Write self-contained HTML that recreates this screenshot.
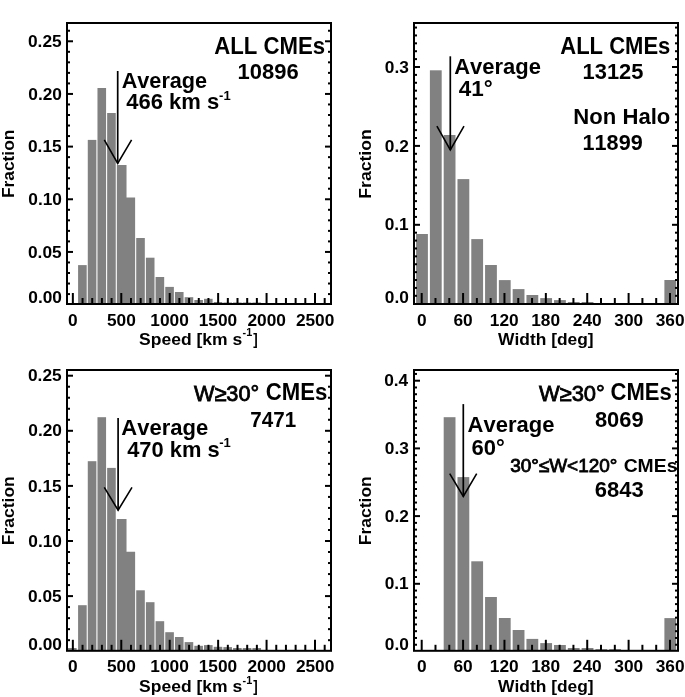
<!DOCTYPE html>
<html><head><meta charset="utf-8"><style>
html,body{margin:0;padding:0;background:#fff;}
body{width:685px;height:697px;overflow:hidden;}
svg{display:block;}
text{font-family:"Liberation Sans","DejaVu Sans",sans-serif;fill:#000;font-kerning:none;}
</style></head><body>
<svg width="685" height="697" viewBox="0 0 685 697">
<rect width="685" height="697" fill="#fff"/>
<rect x="78.09" y="265.10" width="8.60" height="38.90" fill="#818181"/>
<rect x="87.78" y="139.90" width="8.60" height="164.10" fill="#818181"/>
<rect x="97.47" y="88.00" width="8.60" height="216.00" fill="#818181"/>
<rect x="107.15" y="113.00" width="8.60" height="191.00" fill="#818181"/>
<path d="M116.84,304.00V165.00H126.52V197.40H135.12V304.00Z" fill="#818181"/>
<rect x="136.21" y="238.00" width="8.60" height="66.00" fill="#818181"/>
<rect x="145.90" y="257.70" width="8.60" height="46.30" fill="#818181"/>
<rect x="155.58" y="277.00" width="8.60" height="27.00" fill="#818181"/>
<rect x="165.27" y="286.90" width="8.60" height="17.10" fill="#818181"/>
<rect x="174.95" y="292.00" width="8.60" height="12.00" fill="#818181"/>
<rect x="184.64" y="297.20" width="8.60" height="6.80" fill="#818181"/>
<rect x="194.33" y="300.00" width="8.60" height="4.00" fill="#818181"/>
<rect x="204.01" y="298.80" width="8.60" height="5.20" fill="#818181"/>
<rect x="213.70" y="302.00" width="8.60" height="2.00" fill="#818181"/>
<rect x="223.38" y="302.50" width="8.60" height="1.50" fill="#818181"/>
<rect x="233.07" y="302.50" width="8.60" height="1.50" fill="#818181"/>
<rect x="242.75" y="302.50" width="8.60" height="1.50" fill="#818181"/>
<rect x="252.44" y="302.50" width="8.60" height="1.50" fill="#818181"/>
<rect x="67.00" y="23.00" width="264.00" height="281.00" fill="none" stroke="#000" stroke-width="2"/>
<line x1="72.85" y1="304.00" x2="72.85" y2="293.00" stroke="#000" stroke-width="2"/>
<line x1="82.54" y1="304.00" x2="82.54" y2="298.00" stroke="#000" stroke-width="2"/>
<line x1="92.22" y1="304.00" x2="92.22" y2="298.00" stroke="#000" stroke-width="2"/>
<line x1="101.91" y1="304.00" x2="101.91" y2="298.00" stroke="#000" stroke-width="2"/>
<line x1="111.59" y1="304.00" x2="111.59" y2="298.00" stroke="#000" stroke-width="2"/>
<line x1="121.28" y1="304.00" x2="121.28" y2="293.00" stroke="#000" stroke-width="2"/>
<line x1="130.97" y1="304.00" x2="130.97" y2="298.00" stroke="#000" stroke-width="2"/>
<line x1="140.65" y1="304.00" x2="140.65" y2="298.00" stroke="#000" stroke-width="2"/>
<line x1="150.34" y1="304.00" x2="150.34" y2="298.00" stroke="#000" stroke-width="2"/>
<line x1="160.02" y1="304.00" x2="160.02" y2="298.00" stroke="#000" stroke-width="2"/>
<line x1="169.71" y1="304.00" x2="169.71" y2="293.00" stroke="#000" stroke-width="2"/>
<line x1="179.40" y1="304.00" x2="179.40" y2="298.00" stroke="#000" stroke-width="2"/>
<line x1="189.08" y1="304.00" x2="189.08" y2="298.00" stroke="#000" stroke-width="2"/>
<line x1="198.77" y1="304.00" x2="198.77" y2="298.00" stroke="#000" stroke-width="2"/>
<line x1="208.45" y1="304.00" x2="208.45" y2="298.00" stroke="#000" stroke-width="2"/>
<line x1="218.14" y1="304.00" x2="218.14" y2="293.00" stroke="#000" stroke-width="2"/>
<line x1="227.83" y1="304.00" x2="227.83" y2="298.00" stroke="#000" stroke-width="2"/>
<line x1="237.51" y1="304.00" x2="237.51" y2="298.00" stroke="#000" stroke-width="2"/>
<line x1="247.20" y1="304.00" x2="247.20" y2="298.00" stroke="#000" stroke-width="2"/>
<line x1="256.88" y1="304.00" x2="256.88" y2="298.00" stroke="#000" stroke-width="2"/>
<line x1="266.57" y1="304.00" x2="266.57" y2="293.00" stroke="#000" stroke-width="2"/>
<line x1="276.26" y1="304.00" x2="276.26" y2="298.00" stroke="#000" stroke-width="2"/>
<line x1="285.94" y1="304.00" x2="285.94" y2="298.00" stroke="#000" stroke-width="2"/>
<line x1="295.63" y1="304.00" x2="295.63" y2="298.00" stroke="#000" stroke-width="2"/>
<line x1="305.31" y1="304.00" x2="305.31" y2="298.00" stroke="#000" stroke-width="2"/>
<line x1="315.00" y1="304.00" x2="315.00" y2="293.00" stroke="#000" stroke-width="2"/>
<line x1="324.69" y1="304.00" x2="324.69" y2="298.00" stroke="#000" stroke-width="2"/>
<line x1="67.00" y1="294.07" x2="70.00" y2="294.07" stroke="#000" stroke-width="2"/>
<line x1="331.00" y1="294.07" x2="328.00" y2="294.07" stroke="#000" stroke-width="2"/>
<line x1="67.00" y1="283.53" x2="70.00" y2="283.53" stroke="#000" stroke-width="2"/>
<line x1="331.00" y1="283.53" x2="328.00" y2="283.53" stroke="#000" stroke-width="2"/>
<line x1="67.00" y1="273.00" x2="70.00" y2="273.00" stroke="#000" stroke-width="2"/>
<line x1="331.00" y1="273.00" x2="328.00" y2="273.00" stroke="#000" stroke-width="2"/>
<line x1="67.00" y1="262.47" x2="70.00" y2="262.47" stroke="#000" stroke-width="2"/>
<line x1="331.00" y1="262.47" x2="328.00" y2="262.47" stroke="#000" stroke-width="2"/>
<line x1="67.00" y1="251.94" x2="73.00" y2="251.94" stroke="#000" stroke-width="2"/>
<line x1="331.00" y1="251.94" x2="325.00" y2="251.94" stroke="#000" stroke-width="2"/>
<line x1="67.00" y1="241.40" x2="70.00" y2="241.40" stroke="#000" stroke-width="2"/>
<line x1="331.00" y1="241.40" x2="328.00" y2="241.40" stroke="#000" stroke-width="2"/>
<line x1="67.00" y1="230.87" x2="70.00" y2="230.87" stroke="#000" stroke-width="2"/>
<line x1="331.00" y1="230.87" x2="328.00" y2="230.87" stroke="#000" stroke-width="2"/>
<line x1="67.00" y1="220.34" x2="70.00" y2="220.34" stroke="#000" stroke-width="2"/>
<line x1="331.00" y1="220.34" x2="328.00" y2="220.34" stroke="#000" stroke-width="2"/>
<line x1="67.00" y1="209.80" x2="70.00" y2="209.80" stroke="#000" stroke-width="2"/>
<line x1="331.00" y1="209.80" x2="328.00" y2="209.80" stroke="#000" stroke-width="2"/>
<line x1="67.00" y1="199.27" x2="73.00" y2="199.27" stroke="#000" stroke-width="2"/>
<line x1="331.00" y1="199.27" x2="325.00" y2="199.27" stroke="#000" stroke-width="2"/>
<line x1="67.00" y1="188.74" x2="70.00" y2="188.74" stroke="#000" stroke-width="2"/>
<line x1="331.00" y1="188.74" x2="328.00" y2="188.74" stroke="#000" stroke-width="2"/>
<line x1="67.00" y1="178.20" x2="70.00" y2="178.20" stroke="#000" stroke-width="2"/>
<line x1="331.00" y1="178.20" x2="328.00" y2="178.20" stroke="#000" stroke-width="2"/>
<line x1="67.00" y1="167.67" x2="70.00" y2="167.67" stroke="#000" stroke-width="2"/>
<line x1="331.00" y1="167.67" x2="328.00" y2="167.67" stroke="#000" stroke-width="2"/>
<line x1="67.00" y1="157.14" x2="70.00" y2="157.14" stroke="#000" stroke-width="2"/>
<line x1="331.00" y1="157.14" x2="328.00" y2="157.14" stroke="#000" stroke-width="2"/>
<line x1="67.00" y1="146.61" x2="73.00" y2="146.61" stroke="#000" stroke-width="2"/>
<line x1="331.00" y1="146.61" x2="325.00" y2="146.61" stroke="#000" stroke-width="2"/>
<line x1="67.00" y1="136.07" x2="70.00" y2="136.07" stroke="#000" stroke-width="2"/>
<line x1="331.00" y1="136.07" x2="328.00" y2="136.07" stroke="#000" stroke-width="2"/>
<line x1="67.00" y1="125.54" x2="70.00" y2="125.54" stroke="#000" stroke-width="2"/>
<line x1="331.00" y1="125.54" x2="328.00" y2="125.54" stroke="#000" stroke-width="2"/>
<line x1="67.00" y1="115.01" x2="70.00" y2="115.01" stroke="#000" stroke-width="2"/>
<line x1="331.00" y1="115.01" x2="328.00" y2="115.01" stroke="#000" stroke-width="2"/>
<line x1="67.00" y1="104.47" x2="70.00" y2="104.47" stroke="#000" stroke-width="2"/>
<line x1="331.00" y1="104.47" x2="328.00" y2="104.47" stroke="#000" stroke-width="2"/>
<line x1="67.00" y1="93.94" x2="73.00" y2="93.94" stroke="#000" stroke-width="2"/>
<line x1="331.00" y1="93.94" x2="325.00" y2="93.94" stroke="#000" stroke-width="2"/>
<line x1="67.00" y1="83.41" x2="70.00" y2="83.41" stroke="#000" stroke-width="2"/>
<line x1="331.00" y1="83.41" x2="328.00" y2="83.41" stroke="#000" stroke-width="2"/>
<line x1="67.00" y1="72.87" x2="70.00" y2="72.87" stroke="#000" stroke-width="2"/>
<line x1="331.00" y1="72.87" x2="328.00" y2="72.87" stroke="#000" stroke-width="2"/>
<line x1="67.00" y1="62.34" x2="70.00" y2="62.34" stroke="#000" stroke-width="2"/>
<line x1="331.00" y1="62.34" x2="328.00" y2="62.34" stroke="#000" stroke-width="2"/>
<line x1="67.00" y1="51.81" x2="70.00" y2="51.81" stroke="#000" stroke-width="2"/>
<line x1="331.00" y1="51.81" x2="328.00" y2="51.81" stroke="#000" stroke-width="2"/>
<line x1="67.00" y1="41.28" x2="73.00" y2="41.28" stroke="#000" stroke-width="2"/>
<line x1="331.00" y1="41.28" x2="325.00" y2="41.28" stroke="#000" stroke-width="2"/>
<line x1="67.00" y1="30.74" x2="70.00" y2="30.74" stroke="#000" stroke-width="2"/>
<line x1="331.00" y1="30.74" x2="328.00" y2="30.74" stroke="#000" stroke-width="2"/>
<text transform="translate(27.98,46.88)" font-size="17.3" font-weight="bold">0.25</text>
<text transform="translate(28.33,99.54)" font-size="17.3" font-weight="bold">0.20</text>
<text transform="translate(27.98,152.21)" font-size="17.3" font-weight="bold">0.15</text>
<text transform="translate(28.33,204.87)" font-size="17.3" font-weight="bold">0.10</text>
<text transform="translate(27.98,257.54)" font-size="17.3" font-weight="bold">0.05</text>
<text transform="translate(28.33,302.80)" font-size="17.3" font-weight="bold">0.00</text>
<text transform="translate(68.09,325.50)" font-size="17.3" font-weight="bold">0</text>
<text transform="translate(106.92,325.50)" font-size="17.3" font-weight="bold">500</text>
<text transform="translate(150.33,325.50)" font-size="17.3" font-weight="bold">1000</text>
<text transform="translate(198.76,325.50)" font-size="17.3" font-weight="bold">1500</text>
<text transform="translate(247.45,325.50)" font-size="17.3" font-weight="bold">2000</text>
<text transform="translate(295.88,325.50)" font-size="17.3" font-weight="bold">2500</text>
<rect x="416.10" y="234.00" width="11.80" height="70.00" fill="#818181"/>
<rect x="429.89" y="70.30" width="11.80" height="233.70" fill="#818181"/>
<rect x="443.69" y="135.00" width="11.80" height="169.00" fill="#818181"/>
<rect x="457.48" y="179.10" width="11.80" height="124.90" fill="#818181"/>
<rect x="471.28" y="239.10" width="11.80" height="64.90" fill="#818181"/>
<rect x="485.07" y="265.00" width="11.80" height="39.00" fill="#818181"/>
<rect x="498.86" y="280.10" width="11.80" height="23.90" fill="#818181"/>
<rect x="512.66" y="289.10" width="11.80" height="14.90" fill="#818181"/>
<rect x="526.45" y="295.00" width="11.80" height="9.00" fill="#818181"/>
<rect x="540.25" y="298.10" width="11.80" height="5.90" fill="#818181"/>
<rect x="554.04" y="300.10" width="11.80" height="3.90" fill="#818181"/>
<rect x="567.83" y="302.00" width="11.80" height="2.00" fill="#818181"/>
<rect x="581.63" y="302.00" width="11.80" height="2.00" fill="#818181"/>
<rect x="664.39" y="280.00" width="11.80" height="24.00" fill="#818181"/>
<rect x="414.00" y="23.00" width="264.00" height="281.00" fill="none" stroke="#000" stroke-width="2"/>
<line x1="421.70" y1="304.00" x2="421.70" y2="293.00" stroke="#000" stroke-width="2"/>
<line x1="435.49" y1="304.00" x2="435.49" y2="298.00" stroke="#000" stroke-width="2"/>
<line x1="449.29" y1="304.00" x2="449.29" y2="298.00" stroke="#000" stroke-width="2"/>
<line x1="463.08" y1="304.00" x2="463.08" y2="293.00" stroke="#000" stroke-width="2"/>
<line x1="476.88" y1="304.00" x2="476.88" y2="298.00" stroke="#000" stroke-width="2"/>
<line x1="490.67" y1="304.00" x2="490.67" y2="298.00" stroke="#000" stroke-width="2"/>
<line x1="504.46" y1="304.00" x2="504.46" y2="293.00" stroke="#000" stroke-width="2"/>
<line x1="518.26" y1="304.00" x2="518.26" y2="298.00" stroke="#000" stroke-width="2"/>
<line x1="532.05" y1="304.00" x2="532.05" y2="298.00" stroke="#000" stroke-width="2"/>
<line x1="545.85" y1="304.00" x2="545.85" y2="293.00" stroke="#000" stroke-width="2"/>
<line x1="559.64" y1="304.00" x2="559.64" y2="298.00" stroke="#000" stroke-width="2"/>
<line x1="573.43" y1="304.00" x2="573.43" y2="298.00" stroke="#000" stroke-width="2"/>
<line x1="587.23" y1="304.00" x2="587.23" y2="293.00" stroke="#000" stroke-width="2"/>
<line x1="601.02" y1="304.00" x2="601.02" y2="298.00" stroke="#000" stroke-width="2"/>
<line x1="614.82" y1="304.00" x2="614.82" y2="298.00" stroke="#000" stroke-width="2"/>
<line x1="628.61" y1="304.00" x2="628.61" y2="293.00" stroke="#000" stroke-width="2"/>
<line x1="642.40" y1="304.00" x2="642.40" y2="298.00" stroke="#000" stroke-width="2"/>
<line x1="656.20" y1="304.00" x2="656.20" y2="298.00" stroke="#000" stroke-width="2"/>
<line x1="669.99" y1="304.00" x2="669.99" y2="293.00" stroke="#000" stroke-width="2"/>
<line x1="414.00" y1="295.81" x2="417.00" y2="295.81" stroke="#000" stroke-width="2"/>
<line x1="678.00" y1="295.81" x2="675.00" y2="295.81" stroke="#000" stroke-width="2"/>
<line x1="414.00" y1="287.92" x2="417.00" y2="287.92" stroke="#000" stroke-width="2"/>
<line x1="678.00" y1="287.92" x2="675.00" y2="287.92" stroke="#000" stroke-width="2"/>
<line x1="414.00" y1="280.03" x2="417.00" y2="280.03" stroke="#000" stroke-width="2"/>
<line x1="678.00" y1="280.03" x2="675.00" y2="280.03" stroke="#000" stroke-width="2"/>
<line x1="414.00" y1="272.14" x2="417.00" y2="272.14" stroke="#000" stroke-width="2"/>
<line x1="678.00" y1="272.14" x2="675.00" y2="272.14" stroke="#000" stroke-width="2"/>
<line x1="414.00" y1="264.25" x2="417.00" y2="264.25" stroke="#000" stroke-width="2"/>
<line x1="678.00" y1="264.25" x2="675.00" y2="264.25" stroke="#000" stroke-width="2"/>
<line x1="414.00" y1="256.36" x2="417.00" y2="256.36" stroke="#000" stroke-width="2"/>
<line x1="678.00" y1="256.36" x2="675.00" y2="256.36" stroke="#000" stroke-width="2"/>
<line x1="414.00" y1="248.47" x2="417.00" y2="248.47" stroke="#000" stroke-width="2"/>
<line x1="678.00" y1="248.47" x2="675.00" y2="248.47" stroke="#000" stroke-width="2"/>
<line x1="414.00" y1="240.58" x2="417.00" y2="240.58" stroke="#000" stroke-width="2"/>
<line x1="678.00" y1="240.58" x2="675.00" y2="240.58" stroke="#000" stroke-width="2"/>
<line x1="414.00" y1="232.69" x2="417.00" y2="232.69" stroke="#000" stroke-width="2"/>
<line x1="678.00" y1="232.69" x2="675.00" y2="232.69" stroke="#000" stroke-width="2"/>
<line x1="414.00" y1="224.80" x2="420.00" y2="224.80" stroke="#000" stroke-width="2"/>
<line x1="678.00" y1="224.80" x2="672.00" y2="224.80" stroke="#000" stroke-width="2"/>
<line x1="414.00" y1="216.91" x2="417.00" y2="216.91" stroke="#000" stroke-width="2"/>
<line x1="678.00" y1="216.91" x2="675.00" y2="216.91" stroke="#000" stroke-width="2"/>
<line x1="414.00" y1="209.02" x2="417.00" y2="209.02" stroke="#000" stroke-width="2"/>
<line x1="678.00" y1="209.02" x2="675.00" y2="209.02" stroke="#000" stroke-width="2"/>
<line x1="414.00" y1="201.13" x2="417.00" y2="201.13" stroke="#000" stroke-width="2"/>
<line x1="678.00" y1="201.13" x2="675.00" y2="201.13" stroke="#000" stroke-width="2"/>
<line x1="414.00" y1="193.24" x2="417.00" y2="193.24" stroke="#000" stroke-width="2"/>
<line x1="678.00" y1="193.24" x2="675.00" y2="193.24" stroke="#000" stroke-width="2"/>
<line x1="414.00" y1="185.35" x2="417.00" y2="185.35" stroke="#000" stroke-width="2"/>
<line x1="678.00" y1="185.35" x2="675.00" y2="185.35" stroke="#000" stroke-width="2"/>
<line x1="414.00" y1="177.46" x2="417.00" y2="177.46" stroke="#000" stroke-width="2"/>
<line x1="678.00" y1="177.46" x2="675.00" y2="177.46" stroke="#000" stroke-width="2"/>
<line x1="414.00" y1="169.57" x2="417.00" y2="169.57" stroke="#000" stroke-width="2"/>
<line x1="678.00" y1="169.57" x2="675.00" y2="169.57" stroke="#000" stroke-width="2"/>
<line x1="414.00" y1="161.68" x2="417.00" y2="161.68" stroke="#000" stroke-width="2"/>
<line x1="678.00" y1="161.68" x2="675.00" y2="161.68" stroke="#000" stroke-width="2"/>
<line x1="414.00" y1="153.79" x2="417.00" y2="153.79" stroke="#000" stroke-width="2"/>
<line x1="678.00" y1="153.79" x2="675.00" y2="153.79" stroke="#000" stroke-width="2"/>
<line x1="414.00" y1="145.90" x2="420.00" y2="145.90" stroke="#000" stroke-width="2"/>
<line x1="678.00" y1="145.90" x2="672.00" y2="145.90" stroke="#000" stroke-width="2"/>
<line x1="414.00" y1="138.01" x2="417.00" y2="138.01" stroke="#000" stroke-width="2"/>
<line x1="678.00" y1="138.01" x2="675.00" y2="138.01" stroke="#000" stroke-width="2"/>
<line x1="414.00" y1="130.12" x2="417.00" y2="130.12" stroke="#000" stroke-width="2"/>
<line x1="678.00" y1="130.12" x2="675.00" y2="130.12" stroke="#000" stroke-width="2"/>
<line x1="414.00" y1="122.23" x2="417.00" y2="122.23" stroke="#000" stroke-width="2"/>
<line x1="678.00" y1="122.23" x2="675.00" y2="122.23" stroke="#000" stroke-width="2"/>
<line x1="414.00" y1="114.34" x2="417.00" y2="114.34" stroke="#000" stroke-width="2"/>
<line x1="678.00" y1="114.34" x2="675.00" y2="114.34" stroke="#000" stroke-width="2"/>
<line x1="414.00" y1="106.45" x2="417.00" y2="106.45" stroke="#000" stroke-width="2"/>
<line x1="678.00" y1="106.45" x2="675.00" y2="106.45" stroke="#000" stroke-width="2"/>
<line x1="414.00" y1="98.56" x2="417.00" y2="98.56" stroke="#000" stroke-width="2"/>
<line x1="678.00" y1="98.56" x2="675.00" y2="98.56" stroke="#000" stroke-width="2"/>
<line x1="414.00" y1="90.67" x2="417.00" y2="90.67" stroke="#000" stroke-width="2"/>
<line x1="678.00" y1="90.67" x2="675.00" y2="90.67" stroke="#000" stroke-width="2"/>
<line x1="414.00" y1="82.78" x2="417.00" y2="82.78" stroke="#000" stroke-width="2"/>
<line x1="678.00" y1="82.78" x2="675.00" y2="82.78" stroke="#000" stroke-width="2"/>
<line x1="414.00" y1="74.89" x2="417.00" y2="74.89" stroke="#000" stroke-width="2"/>
<line x1="678.00" y1="74.89" x2="675.00" y2="74.89" stroke="#000" stroke-width="2"/>
<line x1="414.00" y1="67.00" x2="420.00" y2="67.00" stroke="#000" stroke-width="2"/>
<line x1="678.00" y1="67.00" x2="672.00" y2="67.00" stroke="#000" stroke-width="2"/>
<line x1="414.00" y1="59.11" x2="417.00" y2="59.11" stroke="#000" stroke-width="2"/>
<line x1="678.00" y1="59.11" x2="675.00" y2="59.11" stroke="#000" stroke-width="2"/>
<line x1="414.00" y1="51.22" x2="417.00" y2="51.22" stroke="#000" stroke-width="2"/>
<line x1="678.00" y1="51.22" x2="675.00" y2="51.22" stroke="#000" stroke-width="2"/>
<line x1="414.00" y1="43.33" x2="417.00" y2="43.33" stroke="#000" stroke-width="2"/>
<line x1="678.00" y1="43.33" x2="675.00" y2="43.33" stroke="#000" stroke-width="2"/>
<line x1="414.00" y1="35.44" x2="417.00" y2="35.44" stroke="#000" stroke-width="2"/>
<line x1="678.00" y1="35.44" x2="675.00" y2="35.44" stroke="#000" stroke-width="2"/>
<line x1="414.00" y1="27.55" x2="417.00" y2="27.55" stroke="#000" stroke-width="2"/>
<line x1="678.00" y1="27.55" x2="675.00" y2="27.55" stroke="#000" stroke-width="2"/>
<text transform="translate(384.84,72.60)" font-size="17.3" font-weight="bold">0.3</text>
<text transform="translate(384.84,151.50)" font-size="17.3" font-weight="bold">0.2</text>
<text transform="translate(384.67,230.40)" font-size="17.3" font-weight="bold">0.1</text>
<text transform="translate(384.84,302.80)" font-size="17.3" font-weight="bold">0.0</text>
<text transform="translate(416.94,325.50)" font-size="17.3" font-weight="bold">0</text>
<text transform="translate(453.48,325.50)" font-size="17.3" font-weight="bold">60</text>
<text transform="translate(489.85,325.50)" font-size="17.3" font-weight="bold">120</text>
<text transform="translate(531.23,325.50)" font-size="17.3" font-weight="bold">180</text>
<text transform="translate(572.87,325.50)" font-size="17.3" font-weight="bold">240</text>
<text transform="translate(614.34,325.50)" font-size="17.3" font-weight="bold">300</text>
<text transform="translate(655.72,325.50)" font-size="17.3" font-weight="bold">360</text>
<rect x="68.00" y="648.00" width="8.60" height="2.80" fill="#818181"/>
<rect x="78.09" y="605.20" width="8.60" height="45.60" fill="#818181"/>
<rect x="87.78" y="461.20" width="8.60" height="189.60" fill="#818181"/>
<rect x="97.47" y="417.20" width="8.60" height="233.60" fill="#818181"/>
<rect x="107.15" y="467.90" width="8.60" height="182.90" fill="#818181"/>
<path d="M116.84,650.80V519.00H126.52V551.80H135.12V650.80Z" fill="#818181"/>
<rect x="136.21" y="590.30" width="8.60" height="60.50" fill="#818181"/>
<rect x="145.90" y="602.20" width="8.60" height="48.60" fill="#818181"/>
<rect x="155.58" y="621.20" width="8.60" height="29.60" fill="#818181"/>
<rect x="165.27" y="632.20" width="8.60" height="18.60" fill="#818181"/>
<rect x="174.95" y="637.00" width="8.60" height="13.80" fill="#818181"/>
<rect x="184.64" y="642.10" width="8.60" height="8.70" fill="#818181"/>
<rect x="194.33" y="645.80" width="8.60" height="5.00" fill="#818181"/>
<rect x="204.01" y="645.10" width="8.60" height="5.70" fill="#818181"/>
<rect x="213.70" y="646.80" width="8.60" height="4.00" fill="#818181"/>
<rect x="223.38" y="647.10" width="8.60" height="3.70" fill="#818181"/>
<rect x="233.07" y="648.00" width="8.60" height="2.80" fill="#818181"/>
<rect x="242.75" y="648.00" width="8.60" height="2.80" fill="#818181"/>
<rect x="252.44" y="648.00" width="8.60" height="2.80" fill="#818181"/>
<rect x="67.00" y="370.00" width="264.00" height="280.80" fill="none" stroke="#000" stroke-width="2"/>
<line x1="72.85" y1="650.80" x2="72.85" y2="639.80" stroke="#000" stroke-width="2"/>
<line x1="82.54" y1="650.80" x2="82.54" y2="644.80" stroke="#000" stroke-width="2"/>
<line x1="92.22" y1="650.80" x2="92.22" y2="644.80" stroke="#000" stroke-width="2"/>
<line x1="101.91" y1="650.80" x2="101.91" y2="644.80" stroke="#000" stroke-width="2"/>
<line x1="111.59" y1="650.80" x2="111.59" y2="644.80" stroke="#000" stroke-width="2"/>
<line x1="121.28" y1="650.80" x2="121.28" y2="639.80" stroke="#000" stroke-width="2"/>
<line x1="130.97" y1="650.80" x2="130.97" y2="644.80" stroke="#000" stroke-width="2"/>
<line x1="140.65" y1="650.80" x2="140.65" y2="644.80" stroke="#000" stroke-width="2"/>
<line x1="150.34" y1="650.80" x2="150.34" y2="644.80" stroke="#000" stroke-width="2"/>
<line x1="160.02" y1="650.80" x2="160.02" y2="644.80" stroke="#000" stroke-width="2"/>
<line x1="169.71" y1="650.80" x2="169.71" y2="639.80" stroke="#000" stroke-width="2"/>
<line x1="179.40" y1="650.80" x2="179.40" y2="644.80" stroke="#000" stroke-width="2"/>
<line x1="189.08" y1="650.80" x2="189.08" y2="644.80" stroke="#000" stroke-width="2"/>
<line x1="198.77" y1="650.80" x2="198.77" y2="644.80" stroke="#000" stroke-width="2"/>
<line x1="208.45" y1="650.80" x2="208.45" y2="644.80" stroke="#000" stroke-width="2"/>
<line x1="218.14" y1="650.80" x2="218.14" y2="639.80" stroke="#000" stroke-width="2"/>
<line x1="227.83" y1="650.80" x2="227.83" y2="644.80" stroke="#000" stroke-width="2"/>
<line x1="237.51" y1="650.80" x2="237.51" y2="644.80" stroke="#000" stroke-width="2"/>
<line x1="247.20" y1="650.80" x2="247.20" y2="644.80" stroke="#000" stroke-width="2"/>
<line x1="256.88" y1="650.80" x2="256.88" y2="644.80" stroke="#000" stroke-width="2"/>
<line x1="266.57" y1="650.80" x2="266.57" y2="639.80" stroke="#000" stroke-width="2"/>
<line x1="276.26" y1="650.80" x2="276.26" y2="644.80" stroke="#000" stroke-width="2"/>
<line x1="285.94" y1="650.80" x2="285.94" y2="644.80" stroke="#000" stroke-width="2"/>
<line x1="295.63" y1="650.80" x2="295.63" y2="644.80" stroke="#000" stroke-width="2"/>
<line x1="305.31" y1="650.80" x2="305.31" y2="644.80" stroke="#000" stroke-width="2"/>
<line x1="315.00" y1="650.80" x2="315.00" y2="639.80" stroke="#000" stroke-width="2"/>
<line x1="324.69" y1="650.80" x2="324.69" y2="644.80" stroke="#000" stroke-width="2"/>
<line x1="67.00" y1="640.18" x2="70.00" y2="640.18" stroke="#000" stroke-width="2"/>
<line x1="331.00" y1="640.18" x2="328.00" y2="640.18" stroke="#000" stroke-width="2"/>
<line x1="67.00" y1="629.16" x2="70.00" y2="629.16" stroke="#000" stroke-width="2"/>
<line x1="331.00" y1="629.16" x2="328.00" y2="629.16" stroke="#000" stroke-width="2"/>
<line x1="67.00" y1="618.14" x2="70.00" y2="618.14" stroke="#000" stroke-width="2"/>
<line x1="331.00" y1="618.14" x2="328.00" y2="618.14" stroke="#000" stroke-width="2"/>
<line x1="67.00" y1="607.12" x2="70.00" y2="607.12" stroke="#000" stroke-width="2"/>
<line x1="331.00" y1="607.12" x2="328.00" y2="607.12" stroke="#000" stroke-width="2"/>
<line x1="67.00" y1="596.10" x2="73.00" y2="596.10" stroke="#000" stroke-width="2"/>
<line x1="331.00" y1="596.10" x2="325.00" y2="596.10" stroke="#000" stroke-width="2"/>
<line x1="67.00" y1="585.08" x2="70.00" y2="585.08" stroke="#000" stroke-width="2"/>
<line x1="331.00" y1="585.08" x2="328.00" y2="585.08" stroke="#000" stroke-width="2"/>
<line x1="67.00" y1="574.06" x2="70.00" y2="574.06" stroke="#000" stroke-width="2"/>
<line x1="331.00" y1="574.06" x2="328.00" y2="574.06" stroke="#000" stroke-width="2"/>
<line x1="67.00" y1="563.04" x2="70.00" y2="563.04" stroke="#000" stroke-width="2"/>
<line x1="331.00" y1="563.04" x2="328.00" y2="563.04" stroke="#000" stroke-width="2"/>
<line x1="67.00" y1="552.02" x2="70.00" y2="552.02" stroke="#000" stroke-width="2"/>
<line x1="331.00" y1="552.02" x2="328.00" y2="552.02" stroke="#000" stroke-width="2"/>
<line x1="67.00" y1="541.00" x2="73.00" y2="541.00" stroke="#000" stroke-width="2"/>
<line x1="331.00" y1="541.00" x2="325.00" y2="541.00" stroke="#000" stroke-width="2"/>
<line x1="67.00" y1="529.98" x2="70.00" y2="529.98" stroke="#000" stroke-width="2"/>
<line x1="331.00" y1="529.98" x2="328.00" y2="529.98" stroke="#000" stroke-width="2"/>
<line x1="67.00" y1="518.96" x2="70.00" y2="518.96" stroke="#000" stroke-width="2"/>
<line x1="331.00" y1="518.96" x2="328.00" y2="518.96" stroke="#000" stroke-width="2"/>
<line x1="67.00" y1="507.94" x2="70.00" y2="507.94" stroke="#000" stroke-width="2"/>
<line x1="331.00" y1="507.94" x2="328.00" y2="507.94" stroke="#000" stroke-width="2"/>
<line x1="67.00" y1="496.92" x2="70.00" y2="496.92" stroke="#000" stroke-width="2"/>
<line x1="331.00" y1="496.92" x2="328.00" y2="496.92" stroke="#000" stroke-width="2"/>
<line x1="67.00" y1="485.90" x2="73.00" y2="485.90" stroke="#000" stroke-width="2"/>
<line x1="331.00" y1="485.90" x2="325.00" y2="485.90" stroke="#000" stroke-width="2"/>
<line x1="67.00" y1="474.88" x2="70.00" y2="474.88" stroke="#000" stroke-width="2"/>
<line x1="331.00" y1="474.88" x2="328.00" y2="474.88" stroke="#000" stroke-width="2"/>
<line x1="67.00" y1="463.86" x2="70.00" y2="463.86" stroke="#000" stroke-width="2"/>
<line x1="331.00" y1="463.86" x2="328.00" y2="463.86" stroke="#000" stroke-width="2"/>
<line x1="67.00" y1="452.84" x2="70.00" y2="452.84" stroke="#000" stroke-width="2"/>
<line x1="331.00" y1="452.84" x2="328.00" y2="452.84" stroke="#000" stroke-width="2"/>
<line x1="67.00" y1="441.82" x2="70.00" y2="441.82" stroke="#000" stroke-width="2"/>
<line x1="331.00" y1="441.82" x2="328.00" y2="441.82" stroke="#000" stroke-width="2"/>
<line x1="67.00" y1="430.80" x2="73.00" y2="430.80" stroke="#000" stroke-width="2"/>
<line x1="331.00" y1="430.80" x2="325.00" y2="430.80" stroke="#000" stroke-width="2"/>
<line x1="67.00" y1="419.78" x2="70.00" y2="419.78" stroke="#000" stroke-width="2"/>
<line x1="331.00" y1="419.78" x2="328.00" y2="419.78" stroke="#000" stroke-width="2"/>
<line x1="67.00" y1="408.76" x2="70.00" y2="408.76" stroke="#000" stroke-width="2"/>
<line x1="331.00" y1="408.76" x2="328.00" y2="408.76" stroke="#000" stroke-width="2"/>
<line x1="67.00" y1="397.74" x2="70.00" y2="397.74" stroke="#000" stroke-width="2"/>
<line x1="331.00" y1="397.74" x2="328.00" y2="397.74" stroke="#000" stroke-width="2"/>
<line x1="67.00" y1="386.72" x2="70.00" y2="386.72" stroke="#000" stroke-width="2"/>
<line x1="331.00" y1="386.72" x2="328.00" y2="386.72" stroke="#000" stroke-width="2"/>
<line x1="67.00" y1="375.70" x2="73.00" y2="375.70" stroke="#000" stroke-width="2"/>
<line x1="331.00" y1="375.70" x2="325.00" y2="375.70" stroke="#000" stroke-width="2"/>
<text transform="translate(27.98,381.30)" font-size="17.3" font-weight="bold">0.25</text>
<text transform="translate(28.33,436.40)" font-size="17.3" font-weight="bold">0.20</text>
<text transform="translate(27.98,491.50)" font-size="17.3" font-weight="bold">0.15</text>
<text transform="translate(28.33,546.60)" font-size="17.3" font-weight="bold">0.10</text>
<text transform="translate(27.98,601.70)" font-size="17.3" font-weight="bold">0.05</text>
<text transform="translate(28.33,649.60)" font-size="17.3" font-weight="bold">0.00</text>
<text transform="translate(68.09,672.30)" font-size="17.3" font-weight="bold">0</text>
<text transform="translate(106.92,672.30)" font-size="17.3" font-weight="bold">500</text>
<text transform="translate(150.33,672.30)" font-size="17.3" font-weight="bold">1000</text>
<text transform="translate(198.76,672.30)" font-size="17.3" font-weight="bold">1500</text>
<text transform="translate(247.45,672.30)" font-size="17.3" font-weight="bold">2000</text>
<text transform="translate(295.88,672.30)" font-size="17.3" font-weight="bold">2500</text>
<rect x="443.69" y="417.20" width="11.80" height="233.60" fill="#818181"/>
<rect x="457.48" y="477.10" width="11.80" height="173.70" fill="#818181"/>
<rect x="471.28" y="561.30" width="11.80" height="89.50" fill="#818181"/>
<rect x="485.07" y="597.00" width="11.80" height="53.80" fill="#818181"/>
<rect x="498.86" y="618.00" width="11.80" height="32.80" fill="#818181"/>
<rect x="512.66" y="630.00" width="11.80" height="20.80" fill="#818181"/>
<rect x="526.45" y="638.90" width="11.80" height="11.90" fill="#818181"/>
<rect x="540.25" y="643.10" width="11.80" height="7.70" fill="#818181"/>
<rect x="554.04" y="645.00" width="11.80" height="5.80" fill="#818181"/>
<rect x="567.83" y="648.00" width="11.80" height="2.80" fill="#818181"/>
<rect x="581.63" y="648.00" width="11.80" height="2.80" fill="#818181"/>
<rect x="595.42" y="649.10" width="11.80" height="1.70" fill="#818181"/>
<rect x="609.22" y="649.10" width="11.80" height="1.70" fill="#818181"/>
<rect x="664.39" y="618.10" width="11.80" height="32.70" fill="#818181"/>
<rect x="414.00" y="370.00" width="264.00" height="280.80" fill="none" stroke="#000" stroke-width="2"/>
<line x1="421.70" y1="650.80" x2="421.70" y2="639.80" stroke="#000" stroke-width="2"/>
<line x1="435.49" y1="650.80" x2="435.49" y2="644.80" stroke="#000" stroke-width="2"/>
<line x1="449.29" y1="650.80" x2="449.29" y2="644.80" stroke="#000" stroke-width="2"/>
<line x1="463.08" y1="650.80" x2="463.08" y2="639.80" stroke="#000" stroke-width="2"/>
<line x1="476.88" y1="650.80" x2="476.88" y2="644.80" stroke="#000" stroke-width="2"/>
<line x1="490.67" y1="650.80" x2="490.67" y2="644.80" stroke="#000" stroke-width="2"/>
<line x1="504.46" y1="650.80" x2="504.46" y2="639.80" stroke="#000" stroke-width="2"/>
<line x1="518.26" y1="650.80" x2="518.26" y2="644.80" stroke="#000" stroke-width="2"/>
<line x1="532.05" y1="650.80" x2="532.05" y2="644.80" stroke="#000" stroke-width="2"/>
<line x1="545.85" y1="650.80" x2="545.85" y2="639.80" stroke="#000" stroke-width="2"/>
<line x1="559.64" y1="650.80" x2="559.64" y2="644.80" stroke="#000" stroke-width="2"/>
<line x1="573.43" y1="650.80" x2="573.43" y2="644.80" stroke="#000" stroke-width="2"/>
<line x1="587.23" y1="650.80" x2="587.23" y2="639.80" stroke="#000" stroke-width="2"/>
<line x1="601.02" y1="650.80" x2="601.02" y2="644.80" stroke="#000" stroke-width="2"/>
<line x1="614.82" y1="650.80" x2="614.82" y2="644.80" stroke="#000" stroke-width="2"/>
<line x1="628.61" y1="650.80" x2="628.61" y2="639.80" stroke="#000" stroke-width="2"/>
<line x1="642.40" y1="650.80" x2="642.40" y2="644.80" stroke="#000" stroke-width="2"/>
<line x1="656.20" y1="650.80" x2="656.20" y2="644.80" stroke="#000" stroke-width="2"/>
<line x1="669.99" y1="650.80" x2="669.99" y2="639.80" stroke="#000" stroke-width="2"/>
<line x1="414.00" y1="644.73" x2="417.00" y2="644.73" stroke="#000" stroke-width="2"/>
<line x1="678.00" y1="644.73" x2="675.00" y2="644.73" stroke="#000" stroke-width="2"/>
<line x1="414.00" y1="637.96" x2="417.00" y2="637.96" stroke="#000" stroke-width="2"/>
<line x1="678.00" y1="637.96" x2="675.00" y2="637.96" stroke="#000" stroke-width="2"/>
<line x1="414.00" y1="631.19" x2="417.00" y2="631.19" stroke="#000" stroke-width="2"/>
<line x1="678.00" y1="631.19" x2="675.00" y2="631.19" stroke="#000" stroke-width="2"/>
<line x1="414.00" y1="624.42" x2="417.00" y2="624.42" stroke="#000" stroke-width="2"/>
<line x1="678.00" y1="624.42" x2="675.00" y2="624.42" stroke="#000" stroke-width="2"/>
<line x1="414.00" y1="617.65" x2="417.00" y2="617.65" stroke="#000" stroke-width="2"/>
<line x1="678.00" y1="617.65" x2="675.00" y2="617.65" stroke="#000" stroke-width="2"/>
<line x1="414.00" y1="610.88" x2="417.00" y2="610.88" stroke="#000" stroke-width="2"/>
<line x1="678.00" y1="610.88" x2="675.00" y2="610.88" stroke="#000" stroke-width="2"/>
<line x1="414.00" y1="604.11" x2="417.00" y2="604.11" stroke="#000" stroke-width="2"/>
<line x1="678.00" y1="604.11" x2="675.00" y2="604.11" stroke="#000" stroke-width="2"/>
<line x1="414.00" y1="597.34" x2="417.00" y2="597.34" stroke="#000" stroke-width="2"/>
<line x1="678.00" y1="597.34" x2="675.00" y2="597.34" stroke="#000" stroke-width="2"/>
<line x1="414.00" y1="590.57" x2="417.00" y2="590.57" stroke="#000" stroke-width="2"/>
<line x1="678.00" y1="590.57" x2="675.00" y2="590.57" stroke="#000" stroke-width="2"/>
<line x1="414.00" y1="583.80" x2="420.00" y2="583.80" stroke="#000" stroke-width="2"/>
<line x1="678.00" y1="583.80" x2="672.00" y2="583.80" stroke="#000" stroke-width="2"/>
<line x1="414.00" y1="577.03" x2="417.00" y2="577.03" stroke="#000" stroke-width="2"/>
<line x1="678.00" y1="577.03" x2="675.00" y2="577.03" stroke="#000" stroke-width="2"/>
<line x1="414.00" y1="570.26" x2="417.00" y2="570.26" stroke="#000" stroke-width="2"/>
<line x1="678.00" y1="570.26" x2="675.00" y2="570.26" stroke="#000" stroke-width="2"/>
<line x1="414.00" y1="563.49" x2="417.00" y2="563.49" stroke="#000" stroke-width="2"/>
<line x1="678.00" y1="563.49" x2="675.00" y2="563.49" stroke="#000" stroke-width="2"/>
<line x1="414.00" y1="556.72" x2="417.00" y2="556.72" stroke="#000" stroke-width="2"/>
<line x1="678.00" y1="556.72" x2="675.00" y2="556.72" stroke="#000" stroke-width="2"/>
<line x1="414.00" y1="549.95" x2="417.00" y2="549.95" stroke="#000" stroke-width="2"/>
<line x1="678.00" y1="549.95" x2="675.00" y2="549.95" stroke="#000" stroke-width="2"/>
<line x1="414.00" y1="543.18" x2="417.00" y2="543.18" stroke="#000" stroke-width="2"/>
<line x1="678.00" y1="543.18" x2="675.00" y2="543.18" stroke="#000" stroke-width="2"/>
<line x1="414.00" y1="536.41" x2="417.00" y2="536.41" stroke="#000" stroke-width="2"/>
<line x1="678.00" y1="536.41" x2="675.00" y2="536.41" stroke="#000" stroke-width="2"/>
<line x1="414.00" y1="529.64" x2="417.00" y2="529.64" stroke="#000" stroke-width="2"/>
<line x1="678.00" y1="529.64" x2="675.00" y2="529.64" stroke="#000" stroke-width="2"/>
<line x1="414.00" y1="522.87" x2="417.00" y2="522.87" stroke="#000" stroke-width="2"/>
<line x1="678.00" y1="522.87" x2="675.00" y2="522.87" stroke="#000" stroke-width="2"/>
<line x1="414.00" y1="516.10" x2="420.00" y2="516.10" stroke="#000" stroke-width="2"/>
<line x1="678.00" y1="516.10" x2="672.00" y2="516.10" stroke="#000" stroke-width="2"/>
<line x1="414.00" y1="509.33" x2="417.00" y2="509.33" stroke="#000" stroke-width="2"/>
<line x1="678.00" y1="509.33" x2="675.00" y2="509.33" stroke="#000" stroke-width="2"/>
<line x1="414.00" y1="502.56" x2="417.00" y2="502.56" stroke="#000" stroke-width="2"/>
<line x1="678.00" y1="502.56" x2="675.00" y2="502.56" stroke="#000" stroke-width="2"/>
<line x1="414.00" y1="495.79" x2="417.00" y2="495.79" stroke="#000" stroke-width="2"/>
<line x1="678.00" y1="495.79" x2="675.00" y2="495.79" stroke="#000" stroke-width="2"/>
<line x1="414.00" y1="489.02" x2="417.00" y2="489.02" stroke="#000" stroke-width="2"/>
<line x1="678.00" y1="489.02" x2="675.00" y2="489.02" stroke="#000" stroke-width="2"/>
<line x1="414.00" y1="482.25" x2="417.00" y2="482.25" stroke="#000" stroke-width="2"/>
<line x1="678.00" y1="482.25" x2="675.00" y2="482.25" stroke="#000" stroke-width="2"/>
<line x1="414.00" y1="475.48" x2="417.00" y2="475.48" stroke="#000" stroke-width="2"/>
<line x1="678.00" y1="475.48" x2="675.00" y2="475.48" stroke="#000" stroke-width="2"/>
<line x1="414.00" y1="468.71" x2="417.00" y2="468.71" stroke="#000" stroke-width="2"/>
<line x1="678.00" y1="468.71" x2="675.00" y2="468.71" stroke="#000" stroke-width="2"/>
<line x1="414.00" y1="461.94" x2="417.00" y2="461.94" stroke="#000" stroke-width="2"/>
<line x1="678.00" y1="461.94" x2="675.00" y2="461.94" stroke="#000" stroke-width="2"/>
<line x1="414.00" y1="455.17" x2="417.00" y2="455.17" stroke="#000" stroke-width="2"/>
<line x1="678.00" y1="455.17" x2="675.00" y2="455.17" stroke="#000" stroke-width="2"/>
<line x1="414.00" y1="448.40" x2="420.00" y2="448.40" stroke="#000" stroke-width="2"/>
<line x1="678.00" y1="448.40" x2="672.00" y2="448.40" stroke="#000" stroke-width="2"/>
<line x1="414.00" y1="441.63" x2="417.00" y2="441.63" stroke="#000" stroke-width="2"/>
<line x1="678.00" y1="441.63" x2="675.00" y2="441.63" stroke="#000" stroke-width="2"/>
<line x1="414.00" y1="434.86" x2="417.00" y2="434.86" stroke="#000" stroke-width="2"/>
<line x1="678.00" y1="434.86" x2="675.00" y2="434.86" stroke="#000" stroke-width="2"/>
<line x1="414.00" y1="428.09" x2="417.00" y2="428.09" stroke="#000" stroke-width="2"/>
<line x1="678.00" y1="428.09" x2="675.00" y2="428.09" stroke="#000" stroke-width="2"/>
<line x1="414.00" y1="421.32" x2="417.00" y2="421.32" stroke="#000" stroke-width="2"/>
<line x1="678.00" y1="421.32" x2="675.00" y2="421.32" stroke="#000" stroke-width="2"/>
<line x1="414.00" y1="414.55" x2="417.00" y2="414.55" stroke="#000" stroke-width="2"/>
<line x1="678.00" y1="414.55" x2="675.00" y2="414.55" stroke="#000" stroke-width="2"/>
<line x1="414.00" y1="407.78" x2="417.00" y2="407.78" stroke="#000" stroke-width="2"/>
<line x1="678.00" y1="407.78" x2="675.00" y2="407.78" stroke="#000" stroke-width="2"/>
<line x1="414.00" y1="401.01" x2="417.00" y2="401.01" stroke="#000" stroke-width="2"/>
<line x1="678.00" y1="401.01" x2="675.00" y2="401.01" stroke="#000" stroke-width="2"/>
<line x1="414.00" y1="394.24" x2="417.00" y2="394.24" stroke="#000" stroke-width="2"/>
<line x1="678.00" y1="394.24" x2="675.00" y2="394.24" stroke="#000" stroke-width="2"/>
<line x1="414.00" y1="387.47" x2="417.00" y2="387.47" stroke="#000" stroke-width="2"/>
<line x1="678.00" y1="387.47" x2="675.00" y2="387.47" stroke="#000" stroke-width="2"/>
<line x1="414.00" y1="380.70" x2="420.00" y2="380.70" stroke="#000" stroke-width="2"/>
<line x1="678.00" y1="380.70" x2="672.00" y2="380.70" stroke="#000" stroke-width="2"/>
<line x1="414.00" y1="373.93" x2="417.00" y2="373.93" stroke="#000" stroke-width="2"/>
<line x1="678.00" y1="373.93" x2="675.00" y2="373.93" stroke="#000" stroke-width="2"/>
<text transform="translate(384.15,386.30)" font-size="17.3" font-weight="bold">0.4</text>
<text transform="translate(384.84,454.00)" font-size="17.3" font-weight="bold">0.3</text>
<text transform="translate(384.84,521.70)" font-size="17.3" font-weight="bold">0.2</text>
<text transform="translate(384.67,589.40)" font-size="17.3" font-weight="bold">0.1</text>
<text transform="translate(384.84,649.60)" font-size="17.3" font-weight="bold">0.0</text>
<text transform="translate(416.94,672.30)" font-size="17.3" font-weight="bold">0</text>
<text transform="translate(453.48,672.30)" font-size="17.3" font-weight="bold">60</text>
<text transform="translate(489.85,672.30)" font-size="17.3" font-weight="bold">120</text>
<text transform="translate(531.23,672.30)" font-size="17.3" font-weight="bold">180</text>
<text transform="translate(572.87,672.30)" font-size="17.3" font-weight="bold">240</text>
<text transform="translate(614.34,672.30)" font-size="17.3" font-weight="bold">300</text>
<text transform="translate(655.72,672.30)" font-size="17.3" font-weight="bold">360</text>
<line x1="117.70" y1="71.00" x2="117.70" y2="163.50" stroke="#000" stroke-width="1.7"/>
<polyline points="104.30,139.90 117.70,163.50 131.60,139.90" fill="none" stroke="#000" stroke-width="1.6" stroke-linejoin="miter"/>
<line x1="450.30" y1="56.30" x2="450.30" y2="149.90" stroke="#000" stroke-width="1.7"/>
<polyline points="436.90,126.20 450.30,149.90 464.00,126.20" fill="none" stroke="#000" stroke-width="1.6" stroke-linejoin="miter"/>
<line x1="118.10" y1="418.10" x2="118.10" y2="510.20" stroke="#000" stroke-width="1.7"/>
<polyline points="104.30,487.40 118.10,510.20 132.00,487.40" fill="none" stroke="#000" stroke-width="1.6" stroke-linejoin="miter"/>
<line x1="463.30" y1="404.10" x2="463.30" y2="496.40" stroke="#000" stroke-width="1.7"/>
<polyline points="449.70,473.70 463.30,496.40 476.70,473.70" fill="none" stroke="#000" stroke-width="1.6" stroke-linejoin="miter"/>
<text transform="translate(13.80,198.12) rotate(-90) scale(0.9986,1)" font-size="17.4" font-weight="bold">Fraction</text>
<text transform="translate(370.70,198.73) rotate(-90) scale(1.0137,1)" font-size="17.4" font-weight="bold">Fraction</text>
<text transform="translate(13.80,545.23) rotate(-90) scale(1.0061,1)" font-size="17.4" font-weight="bold">Fraction</text>
<text transform="translate(370.70,545.23) rotate(-90) scale(1.0061,1)" font-size="17.4" font-weight="bold">Fraction</text>
<text transform="translate(139.07,344.60) scale(1.0062,0.9600)" font-size="17.4" font-weight="bold">Speed [km s</text>
<text transform="translate(242.57,336.40)" font-size="10.8" font-weight="bold">-1</text>
<text transform="translate(253.17,344.60) scale(0.7663,0.9600)" font-size="17.4" font-weight="bold">]</text>
<text transform="translate(139.07,692.20) scale(1.0062,0.9600)" font-size="17.4" font-weight="bold">Speed [km s</text>
<text transform="translate(242.57,684.00)" font-size="10.8" font-weight="bold">-1</text>
<text transform="translate(253.17,692.20) scale(0.7663,0.9600)" font-size="17.4" font-weight="bold">]</text>
<text transform="translate(498.00,344.80) scale(1.0005,0.9600)" font-size="17.4" font-weight="bold">Width [deg]</text>
<text transform="translate(498.00,692.40) scale(1.0005,0.9600)" font-size="17.4" font-weight="bold">Width [deg]</text>
<text transform="translate(214.23,53.50) scale(1.0087,1.0686)" font-size="22" font-weight="bold">ALL CMEs</text>
<text transform="translate(237.58,78.70) scale(0.9990,1.0000)" font-size="22" font-weight="bold">10896</text>
<text transform="translate(121.65,87.50) scale(0.9852,1.0114)" font-size="22" font-weight="bold">Average</text>
<text transform="translate(126.26,109.30)" font-size="22" font-weight="bold">466 km s</text>
<text transform="translate(219.08,99.80)" font-size="13" font-weight="bold">-1</text>
<text transform="translate(560.24,53.80) scale(1.0013,1.0686)" font-size="22" font-weight="bold">ALL CMEs</text>
<text transform="translate(582.59,78.80) scale(0.9936,1.0000)" font-size="22" font-weight="bold">13125</text>
<text transform="translate(454.24,73.60) scale(0.9993,1.0114)" font-size="22" font-weight="bold">Average</text>
<text transform="translate(458.85,95.90) scale(1.0219,1.0000)" font-size="22" font-weight="bold">41°</text>
<text transform="translate(573.35,123.90) scale(1.0047,1.0229)" font-size="22" font-weight="bold">Non Halo</text>
<text transform="translate(582.60,149.90) scale(0.9820,1.0000)" font-size="22" font-weight="bold">11899</text>
<text transform="translate(193.88,400.80) scale(0.9882,1.0000)" font-size="22" font-weight="normal" stroke="#000" stroke-width="0.8">W≥30°</text>
<text transform="translate(265.81,400.30) scale(1.0067,1.0600)" font-size="22" font-weight="bold">CMEs</text>
<text transform="translate(250.28,426.90) scale(0.9364,1.0000)" font-size="22" font-weight="bold">7471</text>
<text transform="translate(121.34,434.50) scale(1.0016,1.0114)" font-size="22" font-weight="bold">Average</text>
<text transform="translate(127.16,456.60) scale(0.9954,1.0000)" font-size="22" font-weight="bold">470 km s</text>
<text transform="translate(219.28,446.80)" font-size="13" font-weight="bold">-1</text>
<text transform="translate(538.88,400.90) scale(0.9975,1.0000)" font-size="22" font-weight="normal" stroke="#000" stroke-width="0.8">W≥30°</text>
<text transform="translate(610.62,400.40) scale(1.0017,1.0600)" font-size="22" font-weight="bold">CMEs</text>
<text transform="translate(594.94,426.60) scale(0.9954,1.0000)" font-size="22" font-weight="bold">8069</text>
<text transform="translate(467.54,432.30) scale(1.0005,1.0114)" font-size="22" font-weight="bold">Average</text>
<text transform="translate(471.42,454.50)" font-size="22" font-weight="bold">60°</text>
<text transform="translate(510.14,471.60) scale(1.0257,1.0000)" font-size="18.5" font-weight="normal" stroke="#000" stroke-width="0.8">30°≤W&lt;120°</text>
<text transform="translate(623.63,471.60) scale(1.0470,1.0000)" font-size="18.5" font-weight="bold">CMEs</text>
<text transform="translate(594.72,496.60)" font-size="22" font-weight="bold">6843</text>
</svg>
</body></html>
